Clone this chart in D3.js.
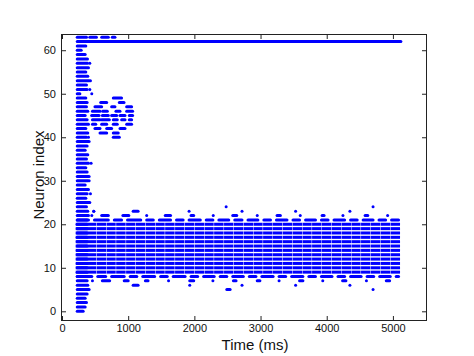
<!DOCTYPE html>
<html><head><meta charset="utf-8">
<script src="https://cdn.jsdelivr.net/npm/d3@7"></script>
<style>
body{margin:0;background:#fff;}
svg{display:block;}
text{font-family:"Liberation Sans",Arial,sans-serif;}
</style></head>
<body>
<svg id="c" width="474" height="356"></svg>
<script>
// ---------- data ----------
const xTicks = [0, 1000, 2000, 3000, 4000, 5000];
const yTicks = [0, 10, 20, 30, 40, 50, 60];
const xDomain = [0, 5500];
const yDomain = [-2, 63.5];

// onset burst of neurons 0..61: all start ~230 ms, end times below (ms)
const onsetStart = 230;
const onsetEnd = [
  320, 350, 370, 350, 380, 410, 390,
  380, 380, 380, 380, 380, 380, 380, 380, 380, 380, 380, 380, 380, 380, 380,
  400, 390, 370, 420, 360, 380, 400, 350, 390, 410,
  380, 360, 400, 370, 390, 350, 380, 410, 370, 390,
  360, 400, 380, 350, 390, 370, 380, 360, 270, 380,
  370, 410, 390, 360, 400, 385, 385, 350, 290, 360
];
// isolated extra onset spikes [neuron, time]
const onsetExtra = [[23, 480], [50, 450], [51, 420], [57, 420], [53, 430], [40, 400], [34, 440], [27, 430], [30, 410]];

// neuron 63 and 62 (top) [start, end]
const row63 = [[230, 370], [420, 520], [600, 700], [760, 800]];
const row62 = [[230, 5120]];

// travelling-wave cluster, neurons 40..49: [neuron, start, end]
const cluster = [
  [49, 775, 900],
  [48, 585, 675], [48, 866, 937],
  [47, 498, 599], [47, 750, 800], [47, 977, 1052],
  [46, 460, 574], [46, 615, 685], [46, 815, 876], [46, 977, 1067],
  [45, 448, 560], [45, 610, 700], [45, 750, 826], [45, 876, 952], [45, 1017, 1067],
  [44, 460, 574], [44, 599, 715], [44, 775, 835], [44, 901, 952], [44, 1017, 1052],
  [43, 460, 510], [43, 599, 675], [43, 775, 835], [43, 977, 1052],
  [42, 498, 574], [42, 675, 750], [42, 876, 952],
  [41, 574, 675], [41, 775, 850],
  [40, 775, 866]
];

// sustained band: neurons firing continuously, with brief common pauses
const bandRows = [9, 10, 11, 12, 13, 14, 15, 16, 17, 18, 19, 20];
const bandSpan = [230, 5085];
const bandPauses = [520, 670, 815, 965, 1110, 1260, 1410, 1555, 1705, 1850, 2000, 2150, 2295, 2445,
  2590, 2740, 2890, 3035, 3185, 3330, 3480, 3630, 3775, 3925, 4070, 4220, 4370, 4515, 4665, 4810, 4960];
const pauseLen = 7; // ms

// edge rows of the band: [start, end]
const row21 = [[230,400],[490,700],[790,900],[990,1190],[1280,1380],[1470,1640],[1730,1830],[1920,2090],[2180,2280],[2370,2520],[2610,2720],[2810,2960],[3050,3150],[3240,3400],[3490,3590],[3680,3830],[3920,4020],[4110,4270],[4360,4460],[4550,4700],[4790,4890],[4980,5085]];
const row8 = [[230,450],[540,660],[750,940],[1030,1130],[1220,1400],[1490,1590],[1680,1860],[1950,2050],[2140,2300],[2390,2490],[2580,2740],[2830,2930],[3020,3190],[3280,3380],[3470,3640],[3730,3830],[3920,4080],[4170,4270],[4360,4520],[4610,4710],[4800,4960],[5050,5085]];
const row22 = [[450,450],[600,700],[920,1010],[1280,1280],[1560,1640],[1950,1990],[2285,2285],[2580,2640],[2950,2950],[3250,3300],[3600,3600],[3930,3960],[4245,4245],[4580,4620],[4920,4920]];
const row7 = [[460,460],[610,720],[940,1000],[1260,1300],[1610,1610],[1930,1990],[2280,2280],[2590,2630],[2950,2990],[3280,3280],[3590,3640],[3940,3940],[4240,4290],[4600,4600],[4900,4950]];
const row23 = [[480,480],[1075,1150],[1920,1920],[2720,2720],[3530,3530],[4350,4350]];
const row6 = [[1075,1150],[1930,1930],[2720,2720],[3530,3530],[4350,4350]];
const row24 = [[2480,2480],[4700,4700]];
const row5 = [[2490,2540],[4700,4700]];

// ---------- build segment lists ----------
const segs = [];
onsetEnd.forEach((e, n) => segs.push([n, onsetStart, e]));
onsetExtra.forEach(([n, t]) => segs.push([n, t, t]));
row63.forEach(([a, b]) => segs.push([63, a, b]));
row62.forEach(([a, b]) => segs.push([62, a, b]));
cluster.forEach(s => segs.push(s));
[[21,row21],[8,row8],[22,row22],[7,row7],[23,row23],[6,row6],[24,row24],[5,row5]]
  .forEach(([n, list]) => list.forEach(([a, b]) => segs.push([n, a, b])));

// band pieces between pauses (butt caps)
const bandPieces = [];
const cuts = [bandSpan[0], ...bandPauses, bandSpan[1]];
bandRows.forEach(n => {
  for (let i = 0; i < cuts.length - 1; i++) {
    const a = i === 0 ? cuts[i] : cuts[i] + pauseLen / 2;
    const b = i === cuts.length - 2 ? cuts[i + 1] : cuts[i + 1] - pauseLen / 2;
    bandPieces.push([n, a, b, i === 0, i === cuts.length - 2]);
  }
});

// ---------- drawing ----------
const svg = d3.select("#c");
const L = 62, R = 426, T = 35, B = 320;
const x = d3.scaleLinear().domain(xDomain).range([L, R]);
const y = d3.scaleLinear().domain(yDomain).range([B, T]);
const blue = "#0000ff";
const sw = 3, cap = sw / 2;

svg.append("g").selectAll("line").data(bandPieces).join("line")
  .attr("x1", d => x(d[1]) - (d[3] ? cap : 0))
  .attr("x2", d => x(d[2]) + (d[4] ? cap : 0))
  .attr("y1", d => y(d[0])).attr("y2", d => y(d[0]))
  .attr("stroke", blue).attr("stroke-width", sw)
  .attr("stroke-linecap", "butt");

svg.append("g").selectAll("line").data(segs).join("line")
  .attr("x1", d => x(d[1])).attr("x2", d => x(d[2]))
  .attr("y1", d => y(d[0])).attr("y2", d => y(d[0]))
  .attr("stroke", blue).attr("stroke-width", sw)
  .attr("stroke-linecap", "round");

const axisCol = "#222";
function styleAxis(g, labels) {
  g.select(".domain").remove();
  g.selectAll(".tick line").attr("stroke", axisCol);
  g.selectAll(".tick text").attr("fill", "#111").style("font-size", "11px")
    .style("font-family", '"Liberation Sans", Arial, sans-serif');
  if (!labels) g.selectAll(".tick text").remove();
}
svg.append("g").attr("transform", `translate(0,${B})`)
  .call(d3.axisBottom(x).tickValues(xTicks).tickSize(-4).tickPadding(4).tickFormat(d3.format("d")))
  .call(g => styleAxis(g, true));
svg.append("g").attr("transform", `translate(0,${T})`)
  .call(d3.axisTop(x).tickValues(xTicks).tickSize(-4))
  .call(g => styleAxis(g, false));
svg.append("g").attr("transform", `translate(${L},0)`)
  .call(d3.axisLeft(y).tickValues(yTicks).tickSize(-4).tickPadding(6).tickFormat(d3.format("d")))
  .call(g => styleAxis(g, true));
svg.append("g").attr("transform", `translate(${R},0)`)
  .call(d3.axisRight(y).tickValues(yTicks).tickSize(-4))
  .call(g => styleAxis(g, false));

svg.append("rect").attr("x", L - 0.5).attr("y", T - 0.5)
  .attr("width", R - L + 1).attr("height", B - T + 1)
  .attr("fill", "none").attr("stroke", axisCol).attr("stroke-width", 1);

svg.append("text").attr("x", 255).attr("y", 349.5).attr("text-anchor", "middle")
  .style("font-size", "15px").attr("fill", "#111").text("Time (ms)");
svg.append("text").attr("transform", `translate(44,175) rotate(-90)`)
  .attr("text-anchor", "middle").style("font-size", "15px").attr("fill", "#111")
  .text("Neuron index");
</script>
</body></html>
